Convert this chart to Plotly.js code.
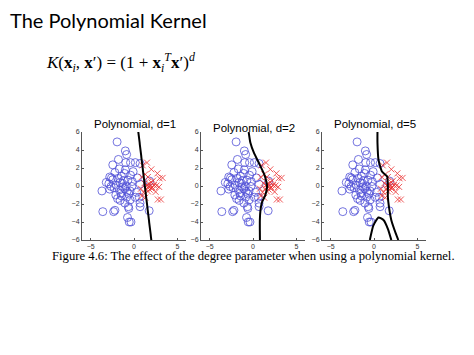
<!DOCTYPE html>
<html><head><meta charset="utf-8">
<script src="https://cdn.plot.ly/plotly-3.0.1.min.js"></script>
<style>html,body{margin:0;padding:0;background:#fff;}#chart{width:474px;height:355px;}</style>
</head><body><div id="chart"></div>
<script>
// Same data set shown in all three panels
const blueX = [-1.95,-1.0,-0.85,-1.8,-2.45,-0.95,-0.4,0.15,0.7,-1.7,-2.2,-1.0,-0.4,-2.8,-2.45,-1.85,-1.45,-3.2,-2.65,-2.05,-1.35,-0.7,-3.7,-2.8,-1.7,-1.05,-0.45,-0.25,-2.1,-1.45,-0.85,-1.6,-1.05,-0.45,0.6,0.7,-0.65,-0.6,0.7,-3.6,-2.35,-2.2,1.75,-0.75,-0.35,-0.55,0.15,1.8,0.7,-1.2,-0.9,-2.3,-1.5,-0.2,0.3,-1.1,-2.6,-0.6,-1.3,-0.1,0.4,-1.9,-0.8,-1.6,-2.9];
const blueY = [4.9,3.9,3.5,2.95,2.35,2.6,2.6,2.6,2.5,1.9,1.5,1.8,1.2,1.0,0.7,0.85,1.1,0.4,-0.05,0.1,0.3,0.65,-0.55,-0.35,-0.45,-0.3,-0.55,-0.05,-1.0,-1.1,-1.25,-1.6,-1.9,-1.55,-1.25,-1.9,-2.3,-2.5,-2.3,-2.85,-2.85,-2.7,-2.75,-3.5,-4.0,-4.0,-1.25,0.55,0.2,0.6,0.0,-0.2,-0.8,0.5,-0.7,1.4,0.9,-0.9,-0.1,1.6,0.9,-1.4,-0.6,0.4,0.25];
const redX = [1.5,1.0,2.0,2.7,2.95,3.3,1.3,0.9,1.6,2.2,1.2,1.5,1.7,1.9,2.1,2.3,2.6,1.4,1.8,2.0,1.6,2.5,1.1,0.8,2.75,3.1,0.9,1.3,2.0,1.75,2.9];
const redY = [2.6,2.3,1.85,1.4,0.85,0.9,1.3,1.0,1.0,0.6,0.3,0.1,-0.1,0.0,-0.15,0.1,0.05,-0.3,-0.4,-0.25,-0.6,-0.65,-0.7,-0.3,-1.5,-1.5,-1.1,-1.3,0.4,0.25,-0.1];
// Decision boundaries
const d1X = [0.5, 2.0];
const d1Y = [6, -6];
const d2X = [-0.5,-0.3,0.1,0.68,1.24,1.54,1.62,1.43,1.05,0.86,0.79,0.79,0.8];
const d2Y = [6,4.8,3.7,2.55,1.42,0.5,-0.07,-1.0,-1.76,-2.7,-3.8,-5.0,-6];
const d5X = [0.4,0.4,0.52,0.92,1.52,1.6,1.6,1.72,2.0,2.52,2.8,null,-0.48,-0.08,0.52,1.12,1.6,2.0];
const d5Y = [6,4.8,2.9,1.6,1.05,-0.07,-1.2,-2.3,-3.8,-5.3,-6,null,-6,-4.4,-3.5,-3.8,-4.76,-6];
const titles = ["Polynomial, d=1","Polynomial, d=2","Polynomial, d=5"];
const xTicks = [-5,0,5];
const yTicks = [-6,-4,-2,0,2,4,6];

(function(){
const W=474,H=355;
const px = v=>v/W, py = v=>1-v/H;
const lefts=[82,201,322], pw=104, topPx=132, botPx=240;
const bounds=[[d1X,d1Y],[d2X,d2Y],[d5X,d5Y]];
const traces=[]; const layout={width:W,height:H,margin:{l:0,r:0,t:0,b:0},paper_bgcolor:'#fff',plot_bgcolor:'rgba(0,0,0,0)',showlegend:false,annotations:[]};
for(let k=0;k<3;k++){
  const xa = k===0?'x':'x'+(k+1), ya = k===0?'y':'y'+(k+1);
  traces.push({x:blueX,y:blueY,xaxis:xa,yaxis:ya,mode:'markers',type:'scatter',marker:{symbol:'circle-open',size:8,color:'rgb(80,80,215)',line:{width:0.8}}});
  traces.push({x:redX,y:redY,xaxis:xa,yaxis:ya,mode:'markers',type:'scatter',marker:{symbol:'x-thin-open',size:6,color:'rgb(235,50,50)',line:{width:0.8,color:'rgb(235,50,50)'}}});
  traces.push({x:bounds[k][0],y:bounds[k][1],xaxis:xa,yaxis:ya,mode:'lines',type:'scatter',line:{color:'black',width:2,shape:'spline',smoothing:0.5},connectgaps:false});
  const axBase={showgrid:false,zeroline:false,showline:true,linecolor:'#555',linewidth:1,ticks:'inside',ticklen:2,tickcolor:'#555',tickfont:{family:'Liberation Sans',size:7,color:'#333'},range:[-6,6],fixedrange:true};
  layout['xaxis'+(k===0?'':k+1)]=Object.assign({},axBase,{domain:[px(lefts[k]),px(lefts[k]+pw)],anchor:ya,tickvals:xTicks,ticktext:xTicks.map(v=>v<0?'\u2212'+(-v):''+v)});
  layout['yaxis'+(k===0?'':k+1)]=Object.assign({},axBase,{domain:[py(botPx),py(topPx)],anchor:xa,tickvals:yTicks,ticktext:yTicks.map(v=>v<0?'\u2212'+(-v):''+v)});
}
const tcx=[135,254,375], tcy=[124,128,124];
for(let k=0;k<3;k++) layout.annotations.push({text:titles[k],xref:'paper',yref:'paper',x:px(tcx[k]),y:py(tcy[k]),xanchor:'center',yanchor:'middle',showarrow:false,font:{family:'Liberation Sans',size:11.5,color:'#000'}});
layout.annotations.push({text:'The Polynomial Kernel',xref:'paper',yref:'paper',x:px(8),y:py(20),xanchor:'left',yanchor:'middle',showarrow:false,font:{family:'Lato',size:20,color:'#000'}});
layout.annotations.push({text:'<i>K</i>(<b>x</b><sub><i>i</i></sub>, <b>x</b>\u2032) = (1 + <b>x</b><sub><i>i</i></sub><sup><i>T</i></sup><b>x</b>\u2032)<sup><i>d</i></sup>',xref:'paper',yref:'paper',x:px(44),y:py(63),xanchor:'left',yanchor:'middle',showarrow:false,font:{family:'Liberation Serif',size:17,color:'#000'}});
layout.annotations.push({text:'Figure 4.6: The effect of the degree parameter when using a polynomial kernel.',xref:'paper',yref:'paper',x:px(50),y:py(256),xanchor:'left',yanchor:'middle',showarrow:false,font:{family:'Liberation Serif',size:12.7,color:'#000'}});
Plotly.newPlot('chart',traces,layout,{staticPlot:true,displayModeBar:false});
})();
</script></body></html>
